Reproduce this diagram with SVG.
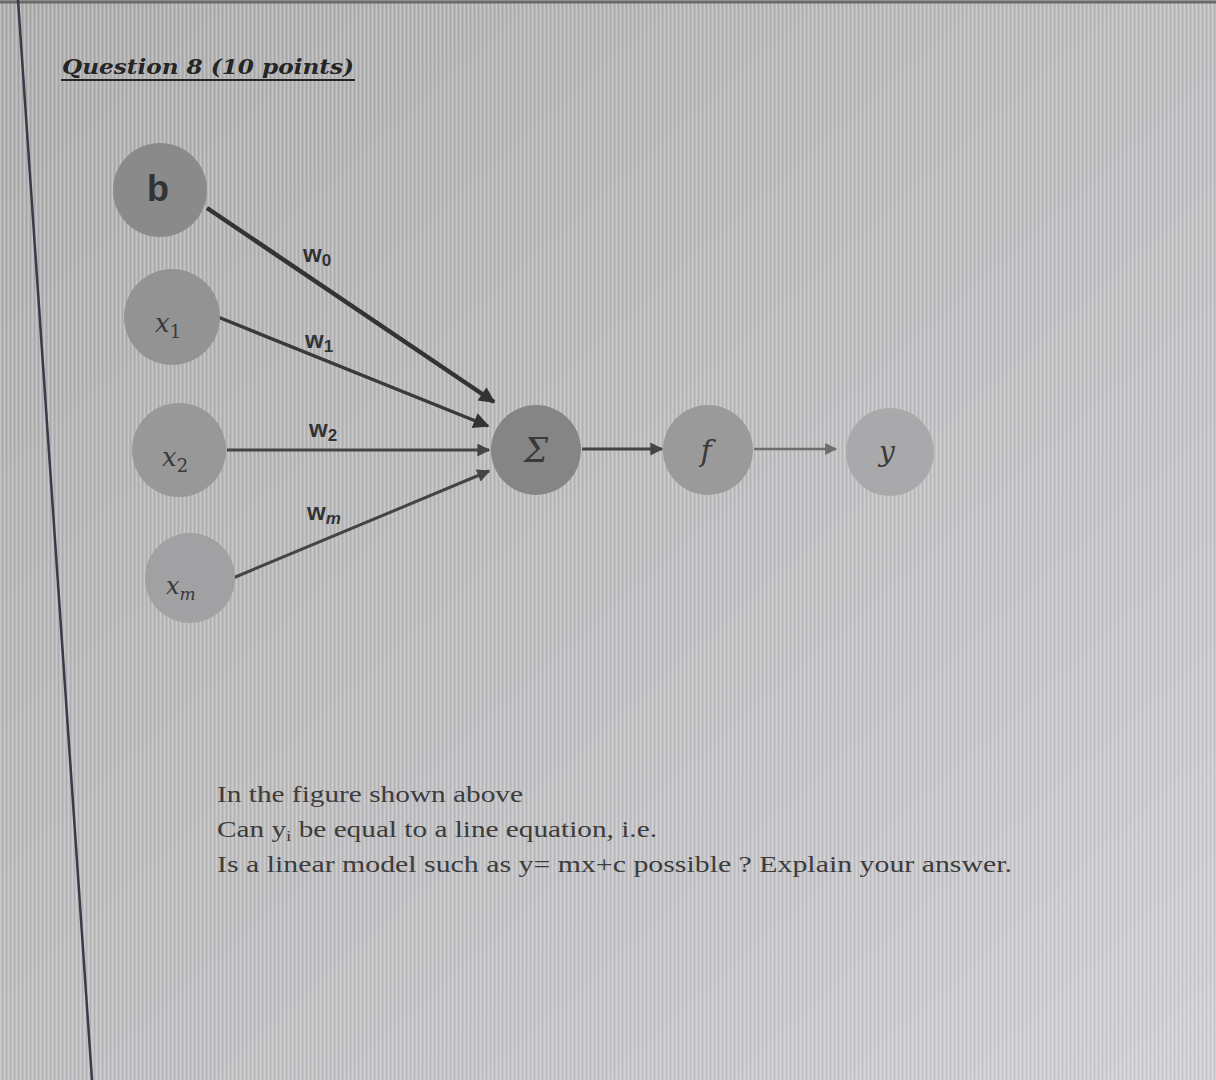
<svg xmlns="http://www.w3.org/2000/svg" width="1216" height="1080" viewBox="0 0 1216 1080">
<defs>
<linearGradient id="bg" x1="0" y1="0" x2="1" y2="1">
<stop offset="0" stop-color="#b0b0b1"/>
<stop offset="0.5" stop-color="#c0c0c2"/>
<stop offset="1" stop-color="#d2d2d8"/>
</linearGradient>
<pattern id="stripes" width="4" height="4" patternUnits="userSpaceOnUse">
<rect x="0" y="0" width="1" height="4" fill="#ffffff" opacity="0.2"/>
<rect x="2" y="0" width="1" height="4" fill="#000000" opacity="0.07"/>
</pattern>
<marker id="ah-dark" viewBox="0 0 10 10" refX="9" refY="5" markerWidth="19" markerHeight="16" markerUnits="userSpaceOnUse" orient="auto">
<path d="M0,0 L10,5 L0,10 Z" fill="#333"/>
</marker>
<marker id="ah-mid" viewBox="0 0 10 10" refX="9" refY="5" markerWidth="16" markerHeight="13" markerUnits="userSpaceOnUse" orient="auto">
<path d="M0,0 L10,5 L0,10 Z" fill="#444"/>
</marker>
<marker id="ah-light" viewBox="0 0 10 10" refX="9" refY="5" markerWidth="15" markerHeight="12" markerUnits="userSpaceOnUse" orient="auto">
<path d="M0,0 L10,5 L0,10 Z" fill="#6e6e6e"/>
</marker>
<style>
.node-label-sans{font-family:"Liberation Sans","DejaVu Sans",sans-serif;font-weight:bold;fill:#333;}
.node-label-math{font-family:"DejaVu Serif","Liberation Serif",serif;font-style:italic;fill:#3a3a3a;}
.wlabel{font-family:"Liberation Sans","DejaVu Sans",sans-serif;font-weight:bold;fill:#333;font-size:24px;}
.sub{font-size:17px;}
.body{font-family:"Liberation Serif","DejaVu Serif",serif;fill:#3c3c3c;font-size:23px;}
.title{font-family:"DejaVu Serif","Liberation Serif",serif;font-weight:bold;font-style:italic;fill:#252525;font-size:20px;}
</style>
</defs>

<rect x="0" y="0" width="1216" height="1080" fill="url(#bg)"/>
<rect x="0" y="0" width="1216" height="1080" fill="url(#stripes)"/>
<line x1="0" y1="2" x2="1216" y2="2" stroke="#6a6a6a" stroke-width="3"/>
<line x1="18" y1="0" x2="92" y2="1080" stroke="#3a3a48" stroke-width="2.5"/>

<g id="title">
<text class="title" x="62" y="74" textLength="292" lengthAdjust="spacingAndGlyphs">Question 8 (10 points)</text>
<line x1="61" y1="80" x2="355" y2="80" stroke="#252525" stroke-width="2"/>
</g>

<g id="connectors" fill="none">
<line x1="207" y1="208" x2="494" y2="402" stroke="#333" stroke-width="4.5" marker-end="url(#ah-dark)"/>
<line x1="218" y1="317" x2="488" y2="426" stroke="#3a3a3a" stroke-width="3.5" marker-end="url(#ah-dark)"/>
<line x1="227" y1="450" x2="489" y2="450" stroke="#444" stroke-width="3" marker-end="url(#ah-mid)"/>
<line x1="233" y1="578" x2="489" y2="471" stroke="#444" stroke-width="3" marker-end="url(#ah-mid)"/>
<line x1="582" y1="449" x2="662" y2="449" stroke="#444" stroke-width="3" marker-end="url(#ah-mid)"/>
<line x1="754" y1="449" x2="836" y2="449" stroke="#6e6e6e" stroke-width="2.5" marker-end="url(#ah-light)"/>
</g>

<g id="weight-labels">
<text class="wlabel" x="303" y="262">w<tspan class="sub" dy="4">0</tspan></text>
<text class="wlabel" x="305" y="348">w<tspan class="sub" dy="4">1</tspan></text>
<text class="wlabel" x="309" y="437">w<tspan class="sub" dy="4">2</tspan></text>
<text class="wlabel" x="307" y="520">w<tspan class="sub" dy="4" font-style="italic">m</tspan></text>
</g>

<g id="node-b">
<circle cx="160" cy="190" r="47" fill="#8a8a8b"/>
<text class="node-label-sans" x="158" y="201" font-size="36" text-anchor="middle">b</text>
</g>
<g id="node-x1">
<circle cx="172" cy="317" r="48" fill="#939394"/>
<text class="node-label-math" x="155" y="332" font-size="26">x<tspan font-size="18" font-style="normal" dy="6">1</tspan></text>
</g>
<g id="node-x2">
<circle cx="179" cy="450" r="47" fill="#989899"/>
<text class="node-label-math" x="162" y="466" font-size="26">x<tspan font-size="18" font-style="normal" dy="6">2</tspan></text>
</g>
<g id="node-xm">
<circle cx="190" cy="578" r="45" fill="#a1a1a3"/>
<text class="node-label-math" x="166" y="594" font-size="24">x<tspan font-size="17" dy="6">m</tspan></text>
</g>
<g id="node-sum">
<circle cx="536" cy="450" r="45" fill="#858586"/>
<text class="node-label-math" x="536" y="462" font-size="34" font-style="normal" text-anchor="middle">Σ</text>
</g>
<g id="node-f">
<circle cx="708" cy="450" r="45" fill="#9a9a9b"/>
<text class="node-label-math" x="706" y="461" font-size="30" text-anchor="middle">f</text>
</g>
<g id="node-y">
<circle cx="890" cy="452" r="44" fill="#a9a9ab"/>
<text class="node-label-math" x="887" y="461" font-size="28" text-anchor="middle">y</text>
</g>

<g id="question-text">
<text class="body" x="217" y="802" textLength="306" lengthAdjust="spacingAndGlyphs">In the figure shown above</text>
<text class="body" x="217" y="837" textLength="440" lengthAdjust="spacingAndGlyphs">Can y<tspan font-size="15" dy="4">i</tspan><tspan dy="-4"> be equal to a line equation, i.e.</tspan></text>
<text class="body" x="217" y="872" textLength="795" lengthAdjust="spacingAndGlyphs">Is a linear model such as y= mx+c possible ? Explain your answer.</text>
</g>
</svg>
